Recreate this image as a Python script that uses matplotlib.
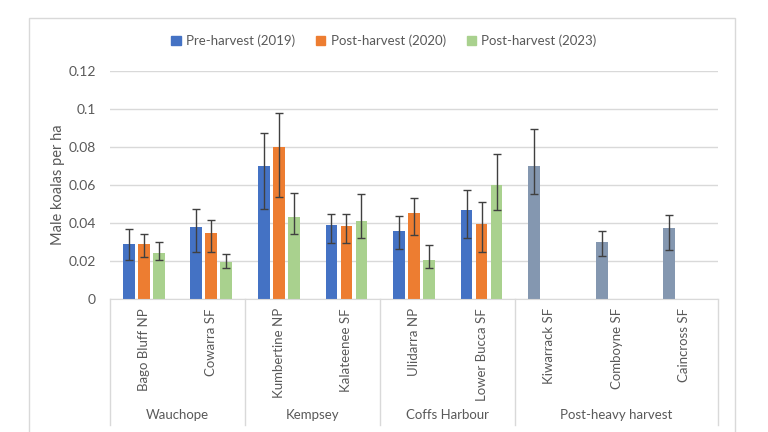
import numpy as np
import matplotlib.pyplot as plt
from matplotlib.patches import Rectangle, Patch
from matplotlib.transforms import blended_transform_factory

plt.rcParams['font.family'] = ['Lato', 'DejaVu Sans']

sites = ["Bago Bluff NP", "Cowarra SF", "Kumbertine NP", "Kalateenee SF",
         "Ulidarra NP", "Lower Bucca SF", "Kiwarrack SF", "Comboyne SF", "Caincross SF"]
groups = ["Wauchope", "Kempsey", "Coffs Harbour", "Post-heavy harvest"]
group_sizes = [2, 2, 2, 3]

# means and error bar ends
pre_2019 = [0.029, 0.038, 0.070, 0.039, 0.036, 0.047]
pre_2019_lo = [0.0204, 0.0249, 0.0475, 0.0293, 0.0265, 0.0321]
pre_2019_hi = [0.0367, 0.0475, 0.0875, 0.0446, 0.0435, 0.0574]

post_2020 = [0.029, 0.0346, 0.080, 0.0382, 0.0451, 0.0393]
post_2020_lo = [0.0219, 0.0249, 0.0539, 0.0293, 0.0339, 0.0249]
post_2020_hi = [0.0340, 0.0418, 0.0979, 0.0446, 0.0532, 0.0512]

post_2023 = [0.0242, 0.0193, 0.043, 0.0412, 0.0207, 0.0598]
post_2023_lo = [0.0204, 0.0161, 0.034, 0.0321, 0.0165, 0.047]
post_2023_hi = [0.0298, 0.0235, 0.056, 0.0553, 0.0284, 0.0761]

heavy = [0.0698, 0.0298, 0.0372]
heavy_lo = [0.0551, 0.0225, 0.0256]
heavy_hi = [0.0893, 0.0358, 0.0440]

yticks = [0, 0.02, 0.04, 0.06, 0.08, 0.1, 0.12]
ytick_labels = ["0", "0.02", "0.04", "0.06", "0.08", "0.1", "0.12"]

text_col = "#595959"
line_col = "#D9D9D9"

fig = plt.figure(figsize=(7.68, 4.32), dpi=100)
ax = fig.add_axes([110/768, 1-299/432, 608/768, 228/432])

w = 0.173
step = 0.222
x = np.arange(len(sites))

series = [(pre_2019, pre_2019_lo, pre_2019_hi, "#4472C4", "Pre-harvest (2019)", -step),
          (post_2020, post_2020_lo, post_2020_hi, "#ED7D31", "Post-harvest (2020)", 0),
          (post_2023, post_2023_lo, post_2023_hi, "#A9D18E", "Post-harvest (2023)", step)]

for vals, lo, hi, col, lab, off in series:
    v = np.array(vals)
    xs = x[:len(v)] + off
    ax.bar(xs, v, w, color=col, zorder=2)
    ax.errorbar(xs, v, yerr=[v - np.array(lo), np.array(hi) - v], fmt='none',
                ecolor="#404040", elinewidth=1, capsize=3, capthick=1, zorder=3)

hv = np.array(heavy)
hx = x[6:] - step
ax.bar(hx, hv, w, color="#8497B0", zorder=2)
ax.errorbar(hx, hv, yerr=[hv - np.array(heavy_lo), np.array(heavy_hi) - hv], fmt='none',
            ecolor="#404040", elinewidth=1, capsize=3, capthick=1, zorder=3)

ax.set_xlim(-0.5, len(sites) - 0.5)
ax.set_ylim(0, 0.12)
ax.set_yticks(yticks)
ax.set_yticklabels(ytick_labels)
ax.tick_params(axis='y', length=0, labelsize=10, labelcolor=text_col, pad=10)
ax.set_xticks([])
ax.grid(axis='y', color=line_col, linewidth=1, zorder=0)
for s in ['top', 'right', 'left']:
    ax.spines[s].set_visible(False)
ax.spines['bottom'].set_color(line_col)

ax.set_ylabel("Male koalas per ha", fontsize=10.5, color=text_col)
ax.yaxis.set_label_coords(-0.074, 0.5)

trans = blended_transform_factory(ax.transData, ax.transAxes)
for i, s in enumerate(sites):
    ax.text(i, -0.04, s, rotation=90, ha='center', va='top', fontsize=9.5,
            color=text_col, transform=trans)

bounds = np.concatenate([[0], np.cumsum(group_sizes)]) - 0.5
for b in bounds:
    ax.plot([b, b], [0, -0.553], color=line_col, linewidth=1, transform=trans, clip_on=False)
for g, a, b in zip(groups, bounds[:-1], bounds[1:]):
    ax.text((a + b) / 2, -0.51, g, ha='center', va='center', fontsize=9.5,
            color=text_col, transform=trans)

handles = [Patch(color=c) for _, _, _, c, _, _ in series]
labels = [l for _, _, _, _, l, _ in series]
fig.legend(handles, labels, loc='center', bbox_to_anchor=(0.5, 1-41/432), ncol=3,
           frameon=False, fontsize=9.5, handlelength=0.7, handleheight=0.7,
           handletextpad=0.4, columnspacing=1.6, labelcolor=text_col)

fig.patches.append(Rectangle((29/768, -0.1), (735-29)/768, 1.1-18/432, transform=fig.transFigure,
                             fill=False, edgecolor=line_col, linewidth=1))

plt.savefig("out.png", dpi=100)
